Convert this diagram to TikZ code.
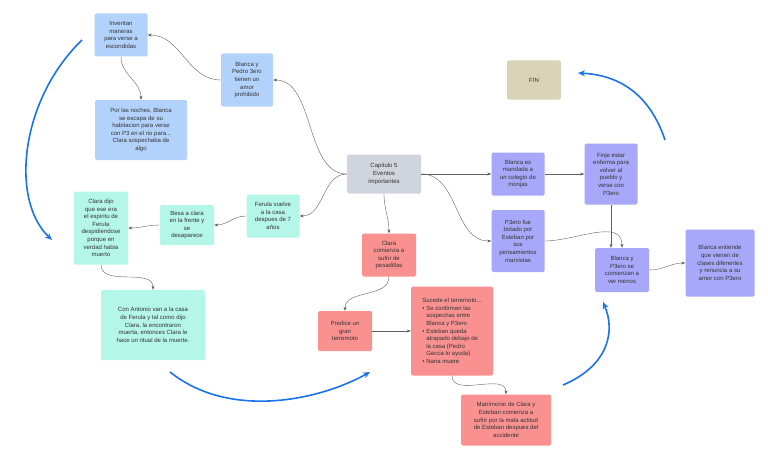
\documentclass[tikz,border=0pt]{standalone}
\usepackage{fontspec}
\setmainfont{Liberation Sans}
\usetikzlibrary{arrows.meta, positioning}
\definecolor{bluebg}{RGB}{178,210,252}
\definecolor{greenbg}{RGB}{180,246,232}
\definecolor{greybg}{RGB}{208,212,220}
\definecolor{purplebg}{RGB}{168,168,250}
\definecolor{redbg}{RGB}{250,145,145}
\definecolor{finbg}{RGB}{217,211,184}
\definecolor{flowblue}{RGB}{26,115,232}
\definecolor{linkgrey}{RGB}{95,95,95}

\begin{document}
\begin{tikzpicture}[x=1pt, y=-1pt,
    box/.style={rectangle, rounded corners=1.5pt, draw=none, align=center, inner sep=1pt, font=\fontsize{6}{7.6}\selectfont, text=black!80},
    arrow/.style={-{Stealth[length=4pt]}, linkgrey, thin},
    flow/.style={-{Stealth[length=7pt,width=6pt]}, flowblue, line width=1.6pt}
]
\useasboundingbox (0,0) rectangle (768,460);

\node[box, fill=bluebg, minimum width=53, minimum height=43] (inventan) at (121,35) {Inventan\\maneras\\para verse a\\escondidas};
\node[box, fill=bluebg, minimum width=92, minimum height=60] (noches) at (141,130) {Por las noches, Blanca\\se escapa de su\\habitacion para verse\\con P3 en el rio para...\\Clara sospechaba de\\algo};
\node[box, fill=bluebg, minimum width=52, minimum height=53] (amor) at (247,80) {Blanca y\\Pedro 3ero\\tienen un\\amor\\prohibido};
\node[box, fill=greybg, minimum width=74, minimum height=39] (capitulo) at (384,174) {Capitulo 5\\Eventos\\importantes};

\node[box, fill=greenbg, minimum width=54, minimum height=73] (espiritu) at (101,228) {Clara dijo\\que ese era\\el espiritu de\\Ferula\\despidiendose\\porque en\\verdad habia\\muerto};
\node[box, fill=greenbg, minimum width=54, minimum height=40] (besa) at (187,225) {Besa a clara\\en la frente y\\se\\desaparece};
\node[box, fill=greenbg, minimum width=53, minimum height=43] (ferula) at (273,216) {Ferula vuelve\\a la casa\\despues de 7\\años};
\node[box, fill=greenbg, minimum width=104, minimum height=70] (antonio) at (153,325) {Con Antonio van a la casa\\de Ferula y tal como dijo\\Clara, la encontraron\\muerta, entonces Clara le\\hace un ritual de la muerte.};

\node[box, fill=purplebg, minimum width=53, minimum height=43] (colegio) at (518,174) {Blanca es\\mandada a\\un colegio de\\monjas};
\node[box, fill=purplebg, minimum width=53, minimum height=61] (finje) at (611,174) {Finje estar\\enferma para\\volver al\\pueblo y\\verse con\\P3ero};
\node[box, fill=purplebg, minimum width=53, minimum height=62] (botado) at (518,241) {P3ero fue\\botado por\\Esteban por\\sus\\pensamientos\\marxistas};
\node[box, fill=purplebg, minimum width=54, minimum height=44] (menos) at (622,270) {Blanca y\\P3ero se\\comienzan a\\ver menos};
\node[box, fill=purplebg, minimum width=69, minimum height=67] (entiende) at (720,263) {Blanca entiende\\que vienen de\\clases diferentes\\y renuncia a su\\amor con P3ero};
\node[box, fill=finbg, minimum width=54, minimum height=39] (fin) at (534,80) {FIN};

\node[box, fill=redbg, minimum width=54, minimum height=43] (pesadillas) at (389,255) {Clara\\comienza a\\sufrir de\\pesadillas};
\node[box, fill=redbg, minimum width=54, minimum height=40] (predice) at (345,331) {Predice un\\gran\\terremoto};
\node[box, fill=redbg, minimum width=82, minimum height=89, align=left] (terremoto) at (452,331) {Sucede el terremoto...\\
 \textbullet\ Se confirman las\\ \phantom{\textbullet\ }sospechas entre\\ \phantom{\textbullet\ }Blanca y P3ero\\
 \textbullet\ Esteban queda\\ \phantom{\textbullet\ }atrapado debajo de\\ \phantom{\textbullet\ }la casa (Pedro\\ \phantom{\textbullet\ }Garcia lo ayuda)\\
 \textbullet\ Nana muere};
\node[box, fill=redbg, minimum width=90, minimum height=51] (matrimonio) at (506,420) {Matrimonio de Clara y\\Esteban comienza a\\sufrir por la mala actitud\\de Esteban despues del\\accidente};

% connectors
\draw[arrow] (capitulo.west) to[out=180, in=0, looseness=0.9] (amor.east);
\draw[arrow] (amor.west) to[out=180, in=0] (inventan.east);
\draw[arrow] (inventan.south) to[out=-90, in=90] (noches.north);
\draw[arrow] (capitulo.west) to[out=180, in=0] (ferula.east);
\draw[arrow] (ferula.west) to[out=180, in=0] (besa.east);
\draw[arrow] (besa.west) to[out=180, in=0] (espiritu.east);
\draw[arrow] (espiritu.south) to[out=-90, in=90] (antonio.north);
\draw[arrow] (capitulo.east) -- (colegio.west);
\draw[arrow] (colegio.east) -- (finje.west);
\draw[arrow] (capitulo.east) to[out=0, in=180] (botado.west);
\draw[arrow] (finje.south) -- (finje.south |- menos.north);
\draw[arrow] (botado.east) to[out=0, in=90] (menos.north);
\draw[arrow] (menos.east) to[out=0, in=180] (entiende.west);
\draw[arrow] (capitulo.south) to[out=-90, in=90] (pesadillas.north);
\draw[arrow] (pesadillas.south) to[out=-90, in=90] (predice.north);
\draw[arrow] (predice.east) -- (terremoto.west);
\draw[arrow] (terremoto.south) to[out=-90, in=90] (matrimonio.north);

% story flow
\draw[flow] (82,40) .. controls (20,100) and (10,200) .. (52,240);
\draw[flow] (170,372) .. controls (230,420) and (320,400) .. (370,372);
\draw[flow] (563,385) .. controls (610,365) and (615,330) .. (603,302);
\draw[flow] (665,140) .. controls (650,95) and (620,75) .. (578,73);

\end{tikzpicture}
\end{document}
